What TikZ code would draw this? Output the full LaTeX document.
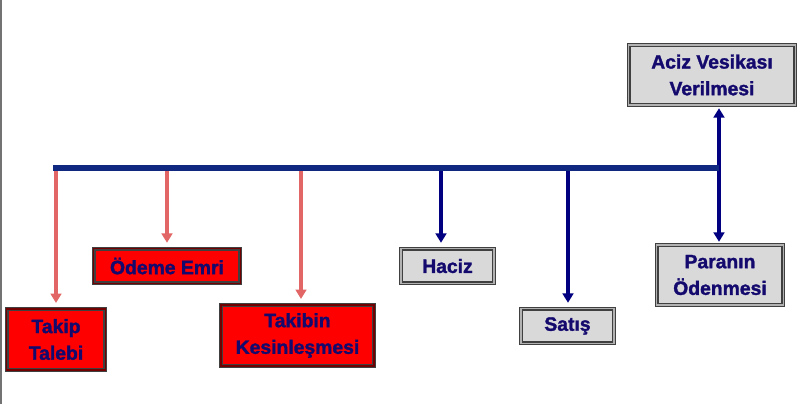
\documentclass[tikz,border=0pt]{standalone}
\usepackage{fontspec}
\setmainfont{Liberation Sans}[BoldFeatures={FakeBold=1.6}]
\usetikzlibrary{arrows.meta}
\definecolor{barblue}{RGB}{16,40,128}
\definecolor{arrowblue}{RGB}{0,0,128}
\definecolor{arrowred}{RGB}{226,102,102}
\definecolor{textnavy}{RGB}{20,10,110}
\definecolor{boxgray}{RGB}{217,217,217}

\begin{document}
\begin{tikzpicture}[x=0.75pt,y=-0.75pt,
  box/.style={draw=black!75,double=black!30,double distance=1.2pt,line width=0.8pt,
    inner sep=0pt,align=center,text=textnavy,font=\fontsize{14.5}{20}\selectfont\bfseries},
  graybox/.style={box,fill=boxgray},
  redbox/.style={box,fill=red,double=red!45!black},
  redarrow/.style={draw=arrowred,line width=3pt,-{Triangle[width=8pt,length=7pt]},shorten >=4pt},
  bluearrow/.style={draw=arrowblue,line width=3pt,-{Triangle[width=8pt,length=7pt]},shorten >=4pt}]
                          \useasboundingbox (0,0) rectangle (800,404);
                          \draw[black!55,line width=1.5pt] (1,0) -- (1,404);

                          \coordinate (start) at (53,168);
                          \coordinate (end) at (719,168);
                          \coordinate (takipx) at (56,168);
                          \coordinate (odemex) at (167,168);
                          \coordinate (takibinx) at (301,168);
                          \coordinate (hacizx) at (441,168);
                          \coordinate (satisx) at (568,168);

                          \node[redbox,minimum width=74pt,minimum height=46pt] (takip) at (56,339.5) {Takip\\Talebi};
                          \node[redbox,minimum width=110pt,minimum height=26pt] (odeme) at (167,266) {Ödeme Emri};
                          \node[redbox,minimum width=115pt,minimum height=46pt] (takibin) at (297.5,335.5) {Takibin\\Kesinleşmesi};
                          \node[graybox,minimum width=70pt,minimum height=26pt] (haciz) at (447.5,266) {Haciz};
                          \node[graybox,minimum width=70pt,minimum height=26pt] (satis) at (567.5,326) {Satış};
                          \node[graybox,minimum width=125pt,minimum height=45pt] (aciz) at (712,75) {Aciz Vesikası\\Verilmesi};
                          \node[graybox,minimum width=95pt,minimum height=45pt] (paranin) at (720,275) {Paranın\\Ödenmesi};

                          \draw[redarrow] (takipx) -- (takipx |- takip.north);
                          \draw[redarrow] (odemex) -- (odemex |- odeme.north);
                          \draw[redarrow] (takibinx) -- (takibinx |- takibin.north);
                          \draw[bluearrow] (hacizx) -- (hacizx |- haciz.north);
                          \draw[bluearrow] (satisx) -- (satisx |- satis.north);
                          \draw[bluearrow,{Triangle[width=8pt,length=7pt]}-{Triangle[width=8pt,length=7pt]},shorten <=2pt,shorten >=2pt] (end |- aciz.south) -- (end |- paranin.north);

                          \draw[barblue,line width=4.5pt] (start) -- (end);
                          \end{tikzpicture}
\end{document}
